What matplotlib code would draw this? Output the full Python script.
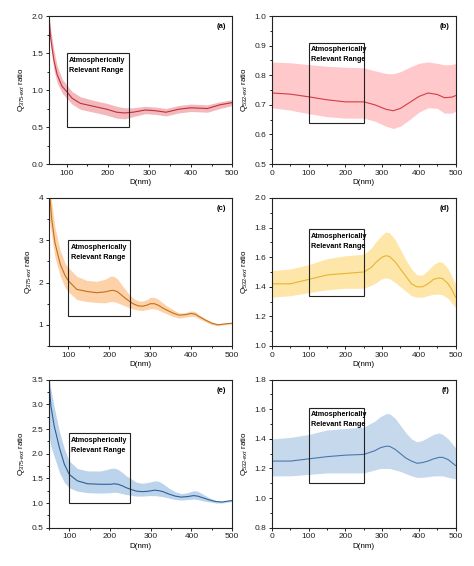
import matplotlib
matplotlib.use("Agg")
import matplotlib.pyplot as plt
from matplotlib.patches import Rectangle
from matplotlib.ticker import MultipleLocator, FormatStrFormatter

plt.rcParams['font.family'] = ['Liberation Sans', 'DejaVu Sans']
plt.rcParams['mathtext.fontset'] = 'custom'
plt.rcParams['mathtext.rm'] = 'Liberation Sans'
plt.rcParams['mathtext.it'] = 'Liberation Sans:italic'

# ---- data ----
xa = [57, 62, 69, 77, 89, 100, 113, 133, 165, 197, 221, 240, 260, 290, 315, 340, 370, 400, 440, 470, 500]
ya = [2.00, 1.68, 1.41, 1.21, 1.05, 0.98, 0.89, 0.82, 0.78, 0.74, 0.70, 0.69, 0.70, 0.73, 0.72, 0.70, 0.74, 0.76, 0.75, 0.80, 0.83]
ua = [2.05, 1.80, 1.55, 1.33, 1.15, 1.07, 0.98, 0.91, 0.86, 0.82, 0.78, 0.76, 0.76, 0.78, 0.77, 0.75, 0.79, 0.81, 0.80, 0.84, 0.87]
la = [1.95, 1.58, 1.28, 1.10, 0.96, 0.89, 0.81, 0.74, 0.70, 0.66, 0.62, 0.61, 0.64, 0.68, 0.67, 0.65, 0.69, 0.71, 0.70, 0.75, 0.79]

xb = [0, 50, 100, 150, 200, 250, 280, 310, 330, 350, 380, 400, 425, 450, 470, 490, 500]
yb = [0.740, 0.736, 0.727, 0.717, 0.710, 0.710, 0.700, 0.685, 0.680, 0.688, 0.712, 0.728, 0.740, 0.735, 0.724, 0.726, 0.731]
ub = [0.845, 0.842, 0.836, 0.830, 0.827, 0.825, 0.815, 0.806, 0.805, 0.812, 0.830, 0.840, 0.845, 0.840, 0.835, 0.836, 0.840]
lb = [0.690, 0.682, 0.670, 0.660, 0.655, 0.655, 0.645, 0.628, 0.620, 0.628, 0.655, 0.675, 0.690, 0.688, 0.672, 0.672, 0.678]

xc = [52, 55, 59, 67, 80, 92, 100, 120, 145, 169, 190, 202, 210, 220, 230, 240, 250, 260, 270, 280, 290, 300, 310, 320, 330, 340,
      355, 370, 385, 400, 410, 420, 435, 450, 465, 480, 500]
yc = [4.30, 4.00, 3.50, 2.94, 2.43, 2.16, 2.04, 1.84, 1.79, 1.76, 1.78, 1.81, 1.815, 1.78, 1.70, 1.62, 1.55, 1.49, 1.45, 1.44, 1.46,
      1.50, 1.50, 1.46, 1.40, 1.35, 1.28, 1.23, 1.24, 1.27, 1.25, 1.19, 1.11, 1.04, 1.00, 1.02, 1.04]
uc = [4.50, 4.30, 3.90, 3.30, 2.75, 2.45, 2.35, 2.15, 2.05, 2.03, 2.08, 2.15, 2.15, 2.08, 1.95, 1.82, 1.70, 1.62, 1.57, 1.56, 1.59,
      1.65, 1.65, 1.60, 1.52, 1.45, 1.36, 1.28, 1.29, 1.33, 1.31, 1.23, 1.14, 1.07, 1.02, 1.04, 1.06]
lc = [3.60, 3.35, 3.10, 2.60, 2.15, 1.88, 1.78, 1.60, 1.55, 1.53, 1.52, 1.55, 1.55, 1.52, 1.48, 1.44, 1.40, 1.37, 1.35, 1.34, 1.36,
      1.38, 1.38, 1.35, 1.30, 1.26, 1.20, 1.16, 1.18, 1.20, 1.19, 1.14, 1.07, 1.00, 0.98, 1.00, 1.02]

xd = [0, 50, 100, 150, 200, 250, 270, 285, 300, 310, 320, 335, 350, 365, 380, 395, 410, 425, 440, 455, 465, 480, 490, 500]
yd = [1.42, 1.42, 1.45, 1.48, 1.49, 1.50, 1.53, 1.57, 1.60, 1.61, 1.605, 1.57, 1.52, 1.47, 1.42, 1.40, 1.40, 1.42, 1.45, 1.46,
      1.455, 1.42, 1.38, 1.33]
ud = [1.51, 1.52, 1.55, 1.59, 1.61, 1.62, 1.66, 1.71, 1.75, 1.77, 1.765, 1.72, 1.65, 1.58, 1.52, 1.48, 1.48, 1.51, 1.55, 1.57,
      1.565, 1.52, 1.47, 1.42]
ld = [1.33, 1.34, 1.36, 1.38, 1.39, 1.39, 1.41, 1.43, 1.455, 1.46, 1.455, 1.43, 1.40, 1.37, 1.34, 1.33, 1.33, 1.34, 1.35, 1.35,
      1.345, 1.32, 1.29, 1.26]

xe = [50, 52, 55, 63, 76, 88, 100, 120, 145, 177, 202, 210, 220, 230, 240, 250, 265, 280, 295, 310, 320, 330, 345, 360, 375,
      390, 405, 415, 430, 445, 460, 475, 490, 500]
ye = [3.45, 3.31, 2.97, 2.57, 2.12, 1.79, 1.58, 1.45, 1.39, 1.38, 1.38, 1.39, 1.38, 1.35, 1.31, 1.28, 1.24, 1.23, 1.24, 1.26,
      1.25, 1.23, 1.18, 1.14, 1.12, 1.13, 1.15, 1.14, 1.10, 1.06, 1.03, 1.02, 1.04, 1.05]
ue = [3.50, 3.50, 3.30, 2.95, 2.45, 2.10, 1.85, 1.70, 1.65, 1.65, 1.70, 1.71, 1.68, 1.62, 1.55, 1.50, 1.42, 1.40, 1.42, 1.45,
      1.44, 1.39, 1.30, 1.23, 1.19, 1.21, 1.25, 1.24, 1.17, 1.10, 1.05, 1.03, 1.05, 1.07]
le = [2.40, 2.30, 2.15, 1.95, 1.62, 1.42, 1.31, 1.24, 1.21, 1.20, 1.21, 1.22, 1.21, 1.19, 1.17, 1.16, 1.14, 1.14, 1.15, 1.15,
      1.14, 1.13, 1.10, 1.07, 1.06, 1.07, 1.08, 1.07, 1.04, 1.02, 1.00, 1.00, 1.02, 1.03]

xf = [0, 50, 100, 150, 200, 250, 280, 295, 310, 320, 335, 350, 365, 380, 395, 410, 425, 440, 455, 465, 480, 490, 500]
yf = [1.25, 1.25, 1.265, 1.28, 1.29, 1.295, 1.32, 1.34, 1.35, 1.35, 1.33, 1.30, 1.27, 1.25, 1.235, 1.24, 1.25, 1.265, 1.275,
      1.275, 1.26, 1.24, 1.22]
uf = [1.40, 1.41, 1.43, 1.46, 1.47, 1.48, 1.52, 1.55, 1.57, 1.57, 1.54, 1.49, 1.44, 1.40, 1.38, 1.39, 1.41, 1.43, 1.44, 1.43,
      1.40, 1.37, 1.34]
lf = [1.15, 1.15, 1.16, 1.17, 1.17, 1.17, 1.19, 1.20, 1.20, 1.20, 1.19, 1.18, 1.165, 1.15, 1.14, 1.14, 1.145, 1.15, 1.15, 1.15,
      1.14, 1.135, 1.13]

panel_labels = ['(a)', '(b)', '(c)', '(d)', '(e)', '(f)']
ylabels = [r'Q$_{375\text{-}ext}$ ratio', r'Q$_{532\text{-}ext}$ ratio'] * 3
box_text = 'Atmospherically\nRelevant Range'

panels = [
    dict(x=xa, y=ya, u=ua, l=la, xlim=(57, 500), ylim=(0, 2.0), ymaj=0.5, box=(0.5, 1.5),
         line='#c0303a', fill='#f2b8bc'),
    dict(x=xb, y=yb, u=ub, l=lb, xlim=(0, 500), ylim=(0.5, 1.0), ymaj=0.1, box=(0.64, 0.91),
         line='#d23c46', fill='#ffc8ca'),
    dict(x=xc, y=yc, u=uc, l=lc, xlim=(52, 500), ylim=(0.5, 4.0), ymaj=1.0, box=(1.2, 3.0),
         line='#c0701e', fill='#fdd2a8'),
    dict(x=xd, y=yd, u=ud, l=ld, xlim=(0, 500), ylim=(1.0, 2.0), ymaj=0.2, box=(1.335, 1.79),
         line='#e8b430', fill='#fde6a8'),
    dict(x=xe, y=ye, u=ue, l=le, xlim=(50, 500), ylim=(0.5, 3.5), ymaj=0.5, box=(1.0, 2.42),
         line='#2f5f96', fill='#bcd3ec'),
    dict(x=xf, y=yf, u=uf, l=lf, xlim=(0, 500), ylim=(0.8, 1.8), ymaj=0.2, box=(1.105, 1.61),
         line='#4a78ae', fill='#c6d8ec'),
]

fig = plt.figure(figsize=(4.74, 5.66), dpi=100)
lefts = [0.103, 0.574]
bottoms = [0.7102, 0.3887, 0.0677]
w, h = 0.387, 0.2615

for i, p in enumerate(panels):
    r, c = divmod(i, 2)
    ax = fig.add_axes([lefts[c], bottoms[r], w, h])
    ax.fill_between(p['x'], p['l'], p['u'], color=p['fill'], lw=0, zorder=1)
    ax.plot(p['x'], p['y'], color=p['line'], lw=0.8, zorder=2)
    ax.set_xlim(*p['xlim'])
    ax.set_ylim(*p['ylim'])
    ax.xaxis.set_major_locator(MultipleLocator(100))
    ax.xaxis.set_minor_locator(MultipleLocator(50))
    ax.yaxis.set_major_locator(MultipleLocator(p['ymaj']))
    ax.yaxis.set_minor_locator(MultipleLocator(p['ymaj'] / 2))
    if p['ymaj'] == 1.0:
        ax.yaxis.set_major_formatter(FormatStrFormatter('%d'))
    else:
        ax.yaxis.set_major_formatter(FormatStrFormatter('%.1f'))
    ax.tick_params(which='both', direction='out', top=False, right=False,
                   labelsize=6, colors='#222222', width=0.7, pad=1.5)
    ax.tick_params(which='major', length=2.5)
    ax.tick_params(which='minor', length=1.5)
    for s in ax.spines.values():
        s.set_linewidth(0.8)
        s.set_color('#222222')
    b0, b1 = p['box']
    ax.add_patch(Rectangle((100, b0), 150, b1 - b0, fill=False, ec='#222222', lw=0.8, zorder=3))
    ax.text(105, b1 - (p['ylim'][1] - p['ylim'][0]) * 0.025, box_text, fontsize=5.2,
            fontweight='bold', va='top', ha='left', linespacing=1.6, zorder=4)
    ax.text(0.965, 0.93, panel_labels[i], transform=ax.transAxes, fontsize=5.5,
            fontweight='bold', ha='right', va='center')
    ax.set_xlabel('D(nm)', fontsize=5.8, labelpad=2)
    ax.set_ylabel(ylabels[i], fontsize=5.8, labelpad=3)

fig.savefig('out.png', dpi=100)
